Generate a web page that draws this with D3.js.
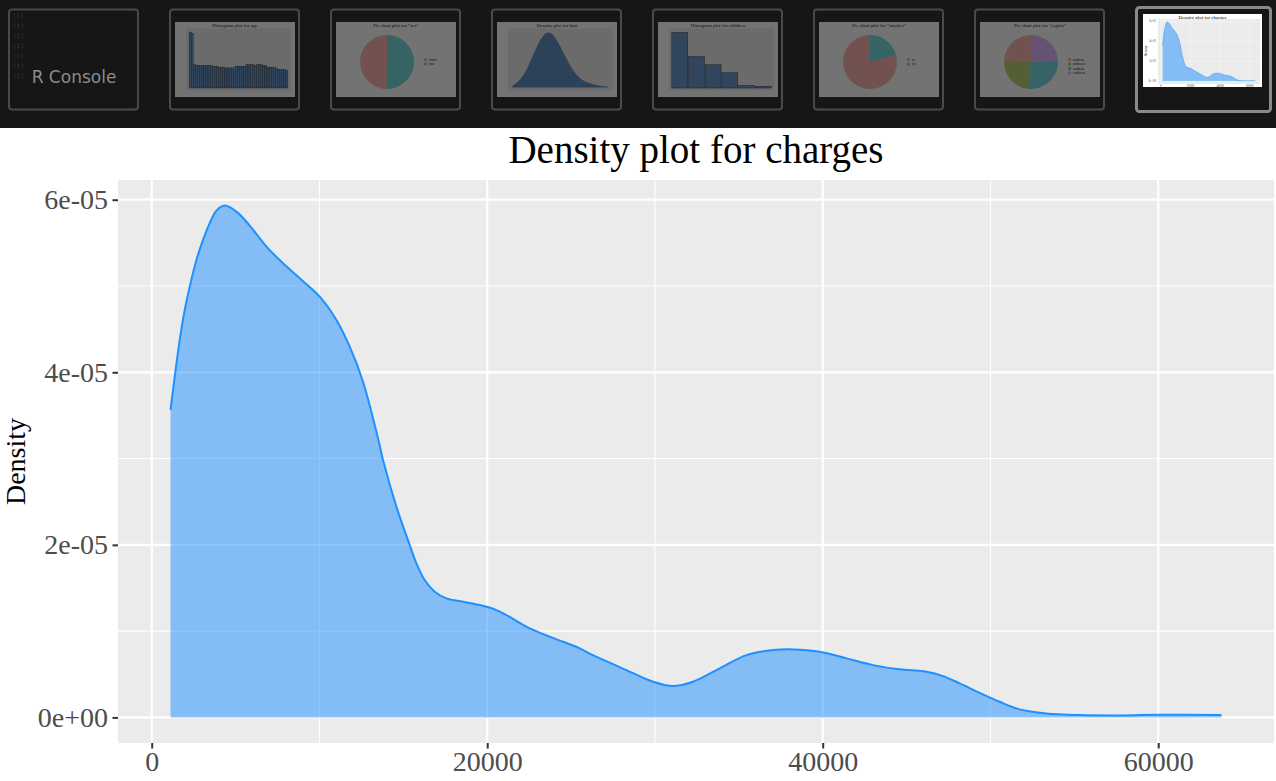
<!DOCTYPE html>
<html><head><meta charset="utf-8">
<script src="https://cdn.jsdelivr.net/npm/d3@7"></script>
<style>body{margin:0;background:#fff}svg{display:block}</style>
</head><body>
<svg id="c" width="1276" height="781"></svg>
<script>
// ---------- main chart data ----------
const chartTitle = "Density plot for charges";
const yAxisTitle = "Density";
const chargesX = [1122,1371,1669,1967,2265,2665,3058,3458,3857,4352,5049,5842,6838,7827,8823,10015,11010,11803,12596,13490,13789,14587,15380,15779,16274,16870,17568,18558,19553,20548,21145,22534,24519,25514,26307,28298,29884,31076,32268,33860,35452,37037,38229,39821,41413,42999,44590,46182,47171,48167,49359,50551,51744,53335,55320,57306,59893,63770];
const densityE5 = [3.563,3.949,4.375,4.722,4.993,5.302,5.534,5.728,5.874,5.932,5.862,5.700,5.456,5.264,5.090,4.877,4.606,4.297,3.891,3.235,2.983,2.442,1.998,1.786,1.592,1.456,1.380,1.340,1.302,1.244,1.186,1.032,0.877,0.800,0.722,0.548,0.413,0.363,0.413,0.568,0.722,0.780,0.788,0.761,0.684,0.606,0.557,0.529,0.479,0.394,0.285,0.181,0.093,0.046,0.027,0.023,0.030,0.027];
const xTicks = [0,20000,40000,60000];
const xMinor = [10000,30000,50000];
const yTicks = [0,2e-5,4e-5,6e-5];
const yMinor = [1e-5,3e-5,5e-5];

// ---------- thumbnail data ----------
const thumbTitles = ["R Console","Histogram plot for age",'Pie chart plot for "sex"',"Density plot for bmi","Histogram plot for children",'Pie chart plot for "smoker"','Pie chart plot for "region"',"Density plot for charges"];
const ageCounts = [69,68,29,28,28,28,28,28,28,28,28,27,27,27,26,26,26,25,25,25,25,25,27,27,27,27,27,29,29,29,29,28,29,29,29,28,28,26,26,26,25,25,23,23,23,23,22];
const sexLevels = ["female","male"];
const sexCounts = [662,676];
const bmiX = [16,18,20,22,24,26,28,30,32,34,36,38,40,42,44,46,48,50,53];
const bmiDens = [0.002,0.006,0.013,0.024,0.038,0.052,0.062,0.066,0.062,0.052,0.040,0.028,0.018,0.011,0.007,0.005,0.003,0.002,0.001];
const childrenCounts = [574,324,240,157,25,18];
const smokerLevels = ["no","yes"];
const smokerCounts = [1064,274];
const regionLevels = ["northeast","northwest","southeast","southwest"];
const regionCounts = [324,325,364,325];
const hueColors = ["#F8766D","#7CAE00","#00BFC4","#C77CFF"];
const twoColors = ["#F8766D","#00BFC4"];

const svg = d3.select("#c");
const serif = "'Liberation Serif','Times New Roman',serif";

// ================= MAIN CHART =================
const P = {l:118, r:1274, t:180, b:743};
const xMin = d3.min(chargesX), xMax = d3.max(chargesX);
const xPad = (xMax - xMin) * 0.05;
const x = d3.scaleLinear().domain([xMin - xPad, xMax + xPad]).range([P.l, P.r]);
const dens = densityE5.map(v => v * 1e-5);
const yMax = d3.max(dens);
const y = d3.scaleLinear().domain([-0.05*yMax, 1.05*yMax]).range([P.b, P.t]);
const pts = chargesX.map((c,i) => [c, dens[i]]);

const main = svg.append("g");
main.append("rect").attr("x",P.l).attr("y",P.t).attr("width",P.r-P.l).attr("height",P.b-P.t).attr("fill","#EBEBEB");
// grid
main.selectAll(".ymin").data(yMinor).join("line").attr("x1",P.l).attr("x2",P.r)
  .attr("y1",d=>y(d)).attr("y2",d=>y(d)).attr("stroke","#fff").attr("stroke-width",1.1);
main.selectAll(".xmin").data(xMinor).join("line").attr("y1",P.t).attr("y2",P.b)
  .attr("x1",d=>x(d)).attr("x2",d=>x(d)).attr("stroke","#fff").attr("stroke-width",1.1);
main.selectAll(".ymaj").data(yTicks).join("line").attr("x1",P.l).attr("x2",P.r)
  .attr("y1",d=>y(d)).attr("y2",d=>y(d)).attr("stroke","#fff").attr("stroke-width",2.2);
main.selectAll(".xmaj").data(xTicks).join("line").attr("y1",P.t).attr("y2",P.b)
  .attr("x1",d=>x(d)).attr("x2",d=>x(d)).attr("stroke","#fff").attr("stroke-width",2.2);

const curve = d3.curveCatmullRom.alpha(0.5);
main.append("path").datum(pts)
  .attr("d", d3.area().x(d=>x(d[0])).y0(y(0)).y1(d=>y(d[1])).curve(curve))
  .attr("fill","#1E90FF").attr("fill-opacity",0.5);
main.append("path").datum(pts)
  .attr("d", d3.line().x(d=>x(d[0])).y(d=>y(d[1])).curve(curve))
  .attr("fill","none").attr("stroke","#1E90FF").attr("stroke-width",2);

function sci(v){
  if (v === 0) return "0e+00";
  const [m,e] = v.toExponential(0).split("e");
  const n = +e; const s = n < 0 ? "-" : "+";
  return m + "e" + s + String(Math.abs(n)).padStart(2,"0");
}
const yAxis = main.append("g").attr("transform",`translate(${P.l},0)`)
  .call(d3.axisLeft(y).tickValues(yTicks).tickSize(5.5).tickPadding(4.5).tickFormat(sci));
const xAxis = main.append("g").attr("transform",`translate(0,${P.b})`)
  .call(d3.axisBottom(x).tickValues(xTicks).tickSize(5.5).tickPadding(3).tickFormat(d3.format("d")));
[yAxis,xAxis].forEach(a=>{
  a.select(".domain").remove();
  a.selectAll(".tick line").attr("stroke","#333").attr("stroke-width",2);
  a.selectAll(".tick text").attr("fill","#4D4D4D").style("font-family",serif).style("font-size","28px");
});
svg.append("text").attr("x",(P.l+P.r)/2).attr("y",163).attr("text-anchor","middle")
  .style("font-family",serif).style("font-size","39px").attr("fill","#000").text(chartTitle);
svg.append("text").attr("transform",`translate(25,${(P.t+P.b)/2}) rotate(-90)`).attr("text-anchor","middle")
  .style("font-family",serif).style("font-size","28px").attr("fill","#000").text(yAxisTitle);

// ================= TOP STRIP =================
svg.append("rect").attr("width",1276).attr("height",128).attr("fill","#161616");
const boxX = d3.range(8).map(i => 8 + 161*i);
boxX.forEach((bx,i)=>{
  if (i===7) {
    svg.append("rect").attr("x",1136.5).attr("y",7.5).attr("width",134).attr("height",104).attr("rx",3)
      .attr("fill","none").attr("stroke","#8a8a8a").attr("stroke-width",3);
  } else {
    svg.append("rect").attr("x",bx+1).attr("y",9.5).attr("width",129).attr("height",100).attr("rx",3)
      .attr("fill","none").attr("stroke","#4a4a4a").attr("stroke-width",2);
  }
});
// R console thumb
const rc = svg.append("g");
d3.range(7).forEach(k=>{
  rc.append("text").attr("x",13).attr("y",18+k*10).style("font-family","DejaVu Sans Mono").style("font-size","6px")
    .attr("fill","#3a3a3a").text("[1] ");
});
rc.append("text").attr("x",74).attr("y",83).attr("text-anchor","middle").style("font-family","'DejaVu Sans',sans-serif")
  .style("font-size","17px").attr("fill","#8c8c8c").text(thumbTitles[0]);

function thumbFrame(i, ix, iy, w, h, op){
  const g = svg.append("g").attr("transform",`translate(${ix},${iy})`).attr("opacity",op);
  g.append("rect").attr("width",w).attr("height",h).attr("fill","#fff");
  g.append("text").attr("x",w/2).attr("y",5).attr("text-anchor","middle").style("font-family",serif)
    .style("font-size","5px").attr("fill","#000").text(thumbTitles[i]);
  return g;
}
function panel(g, x0, y0, w, h){
  g.append("rect").attr("x",x0).attr("y",y0).attr("width",w).attr("height",h).attr("fill","#EBEBEB");
}
const OP = 0.4;
// age histogram
(function(){
  const g = thumbFrame(1, boxX[1]+6, 22, 120, 75, OP);
  panel(g, 11, 6.5, 105, 62);
  const bx = d3.scaleBand().domain(d3.range(ageCounts.length)).range([14, 113]).padding(0.05);
  const by = d3.scaleLinear().domain([0, 72]).range([66, 8]);
  g.selectAll("rect.b").data(ageCounts).join("rect").attr("x",(d,i)=>bx(i)).attr("width",bx.bandwidth())
    .attr("y",d=>by(d)).attr("height",d=>by(0)-by(d)).attr("fill","#5A8FC8").attr("stroke","#000").attr("stroke-width",0.3);
})();
// pies
function pieThumb(i, levels, counts, colors){
  const g = thumbFrame(i, boxX[i]+6, 22, 120, 75, OP);
  const arcs = d3.pie().sort(null)(counts.slice().reverse());
  const cols = colors.slice().reverse();
  const arc = d3.arc().innerRadius(0).outerRadius(27);
  const pg = g.append("g").attr("transform","translate(51,40)");
  pg.selectAll("path").data(arcs).join("path").attr("d",arc).attr("fill",(d,k)=>cols[k]).attr("fill-opacity",0.6);
  levels.forEach((l,k)=>{
    g.append("rect").attr("x",88).attr("y",36+k*4.5).attr("width",3).attr("height",3).attr("fill",colors[k]).attr("fill-opacity",0.6);
    g.append("text").attr("x",93).attr("y",38.8+k*4.5).style("font-size","3px").style("font-family",serif).text(l);
  });
}
pieThumb(2, sexLevels, sexCounts, twoColors);
pieThumb(5, smokerLevels, smokerCounts, twoColors);
pieThumb(6, regionLevels, regionCounts, hueColors);
// bmi density
(function(){
  const g = thumbFrame(3, boxX[3]+6, 22, 120, 75, OP);
  panel(g, 11, 6.5, 105, 62);
  const bx = d3.scaleLinear().domain([14.3, 55]).range([11, 116]);
  const by = d3.scaleLinear().domain([-0.0035, 0.0695]).range([68.5, 6.5]);
  g.append("path").datum(bmiX.map((b,k)=>[b,bmiDens[k]]))
    .attr("d", d3.area().x(d=>bx(d[0])).y0(by(0)).y1(d=>by(d[1])).curve(d3.curveBasis))
    .attr("fill","#4F84BF");
})();
// children histogram
(function(){
  const g = thumbFrame(4, boxX[4]+6, 22, 120, 75, OP);
  panel(g, 11, 6.5, 105, 62);
  const bx = d3.scaleBand().domain(d3.range(childrenCounts.length)).range([13, 114]).padding(0.05);
  const by = d3.scaleLinear().domain([0, 600]).range([66, 8]);
  g.selectAll("rect.b").data(childrenCounts).join("rect").attr("x",(d,i)=>bx(i)).attr("width",bx.bandwidth())
    .attr("y",d=>by(d)).attr("height",d=>by(0)-by(d)).attr("fill","#5A8FC8").attr("stroke","#1a2a40").attr("stroke-width",0.5);
})();
// selected: mini charges density
(function(){
  const g = thumbFrame(7, 1143, 14, 119, 73, 1);
  panel(g, 15, 5, 102, 65);
  const mx = d3.scaleLinear().domain(x.domain()).range([15, 117]);
  const my = d3.scaleLinear().domain(y.domain()).range([70, 5]);
  xTicks.forEach(t=>g.append("line").attr("x1",mx(t)).attr("x2",mx(t)).attr("y1",5).attr("y2",70).attr("stroke","#fff").attr("stroke-width",0.4));
  yTicks.forEach(t=>g.append("line").attr("x1",15).attr("x2",117).attr("y1",my(t)).attr("y2",my(t)).attr("stroke","#fff").attr("stroke-width",0.4));
  g.append("path").datum(pts).attr("d", d3.area().x(d=>mx(d[0])).y0(my(0)).y1(d=>my(d[1])).curve(curve))
    .attr("fill","#1E90FF").attr("fill-opacity",0.5);
  g.append("path").datum(pts).attr("d", d3.line().x(d=>mx(d[0])).y(d=>my(d[1])).curve(curve))
    .attr("fill","none").attr("stroke","#1E90FF").attr("stroke-width",0.5);
  yTicks.forEach(t=>g.append("text").attr("x",13).attr("y",my(t)+1).attr("text-anchor","end").style("font-size","3px").style("font-family",serif).attr("fill","#4D4D4D").text(sci(t)));
  xTicks.forEach(t=>g.append("text").attr("x",mx(t)).attr("y",73).attr("text-anchor","middle").style("font-size","3px").style("font-family",serif).attr("fill","#4D4D4D").text(t));
  g.append("text").attr("transform","translate(4,37) rotate(-90)").attr("text-anchor","middle").style("font-size","3.5px").style("font-family",serif).text(yAxisTitle);
})();
</script>
</body></html>
